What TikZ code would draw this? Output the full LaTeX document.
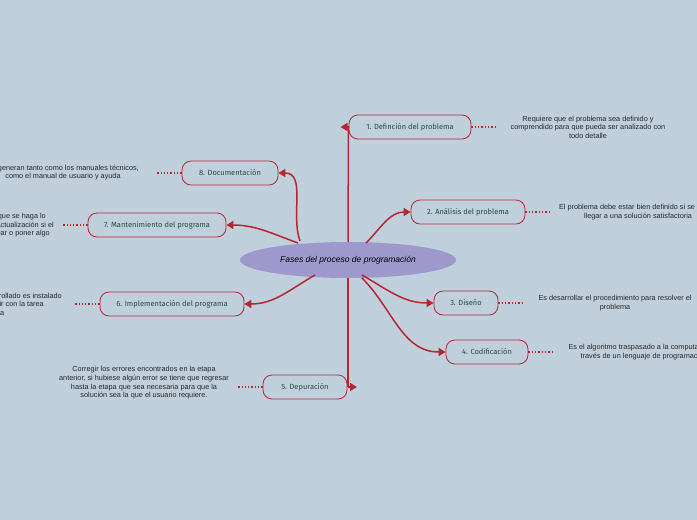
\documentclass[tikz,border=0pt]{standalone}
\usepackage{fontspec}
\setmainfont{Liberation Sans}
\newfontfamily\hand{Fira Sans}
\usetikzlibrary{shapes.geometric,arrows.meta}
\definecolor{bg}{HTML}{C0CFDC}
\definecolor{lnk}{HTML}{B5262F}
\definecolor{txt}{HTML}{1F4E3D}
\definecolor{cen}{HTML}{9D99CC}
\tikzset{
 phase/.style={draw=lnk,line width=0.8pt,rounded corners=9pt,fill=bg,minimum height=24pt,inner xsep=6pt,font=\hand\fontsize{7.5}{8}\selectfont,text=txt},
 lk/.style={draw=lnk,line width=1.5pt,-{Triangle[length=7pt,width=8pt]}},
 dt/.style={draw=lnk,line width=1.3pt,dotted},
 desc/.style={font=\fontsize{7.3}{8.6}\selectfont,align=center,text=black!85},
 dl/.style={font=\fontsize{7.3}{8.6}\selectfont,text=black!85,inner sep=0pt}
}
\begin{document}
\begin{tikzpicture}[x=1pt,y=-1pt]
\clip (0,0) rectangle (697,520);
\fill[bg] (0,0) rectangle (697,520);
\node[ellipse,fill=cen,minimum width=216pt,minimum height=36pt,font=\itshape\fontsize{8.5}{9}\selectfont] (c) at (348,260) {Fases del proceso de programación};
\node[phase,minimum width=122pt] (n1) at (410,127) {1. Definción del problema};
\node[phase,minimum width=114pt] (n2) at (468,212) {2. Análisis del problema};
\node[phase,minimum width=64pt] (n3) at (466,303) {3. Diseño};
\node[phase,minimum width=82pt] (n4) at (487,352) {4. Codificación};
\node[phase,minimum width=84pt] (n5) at (305,387) {5. Depuración};
\node[phase,minimum width=144pt] (n6) at (172,304) {6. Implementación del programa};
\node[phase,minimum width=138pt] (n7) at (157,225) {7. Mantenimiento del programa};
\node[phase,minimum width=96pt] (n8) at (230,173) {8. Documentación};
% connectors
\coordinate (t1) at (348.5,127);
\coordinate (t5) at (348,387);
\draw[lnk,line width=1.5pt] (c.north) -- (t1);
\draw[lnk,line width=1.5pt,-{Triangle[length=7pt,width=8pt]}] (t1) -- ++(-8,0);
\draw[lnk,line width=1.5pt] (c.south) -- (t5);
\draw[lnk,line width=1.5pt,-{Triangle[length=7pt,width=8pt]}] (t5) -- ++(9,0);
\draw[lk] (366,243) to[out=45,in=180] (n2.west);
\draw[lk] (362,275) to[out=-30,in=180] (n3.west);
\draw[lk] (362,278) to[out=-45,in=180] (n4.west);
\draw[lk] (315,275) to[out=210,in=0] (n6.east);
\draw[lk] (298,243) to[out=160,in=0] (n7.east);
\draw[lk] (300,241) to[out=110,in=0] (n8.east);
% dotted
\draw[dt] (n1.east) -- ++(26,0);
\draw[dt] (n2.east) -- ++(26,0);
\draw[dt] (n3.east) -- ++(26,0);
\draw[dt] (n4.east) -- ++(26,0);
\draw[dt] (n5.west) -- ++(-26,0);
\draw[dt] (n6.west) -- ++(-26,0);
\draw[dt] (n7.west) -- ++(-26,0);
\draw[dt] (n8.west) -- ++(-26,0);
% descriptions
\node[desc] (d1) at (588,127) {Requiere que el problema sea definido y\\comprendido para que pueda ser analizado con\\todo detalle};
\node[desc] (d2) at (638,212) {El problema debe estar bien definido si se desea\\llegar a una solución satisfactoria};
\node[desc] (d3) at (615,303) {Es desarrollar el procedimiento para resolver el\\problema};
\node[desc] (d4) at (644,352) {Es el algoritmo traspasado a la computadora a\\través de un lenguaje de programación};
\node[desc] (d5) at (144,383) {Corregir los errores encontrados en la etapa\\anterior, si hubiese algún error se tiene que regresar\\hasta la etapa que sea necesaria para que la\\solución sea la que el usuario requiere.};
\node[dl,anchor=east] (d6a) at (62,296) {Una vez desarrollado es instalado};
\node[dl,anchor=east] (d6b) at (44,305) {para cumplir con la tarea};
\node[dl,anchor=east] (d6c) at (4.5,314) {asignada};
\node[dl,anchor=east] (d7a) at (46,217) {Es necesario que se haga lo};
\node[dl,anchor=east] (d7b) at (54,225.5) {mas pronto una actualización si el};
\node[dl,anchor=east] (d7c) at (50,234) {usuario desea cambiar o poner algo};
\node[dl,anchor=east] (d8a) at (139,169) {Se generan tanto como los manuales técnicos,};
\node[dl] (d8b) at (63,177) {como el manual de usuario y ayuda};
\end{tikzpicture}
\end{document}
